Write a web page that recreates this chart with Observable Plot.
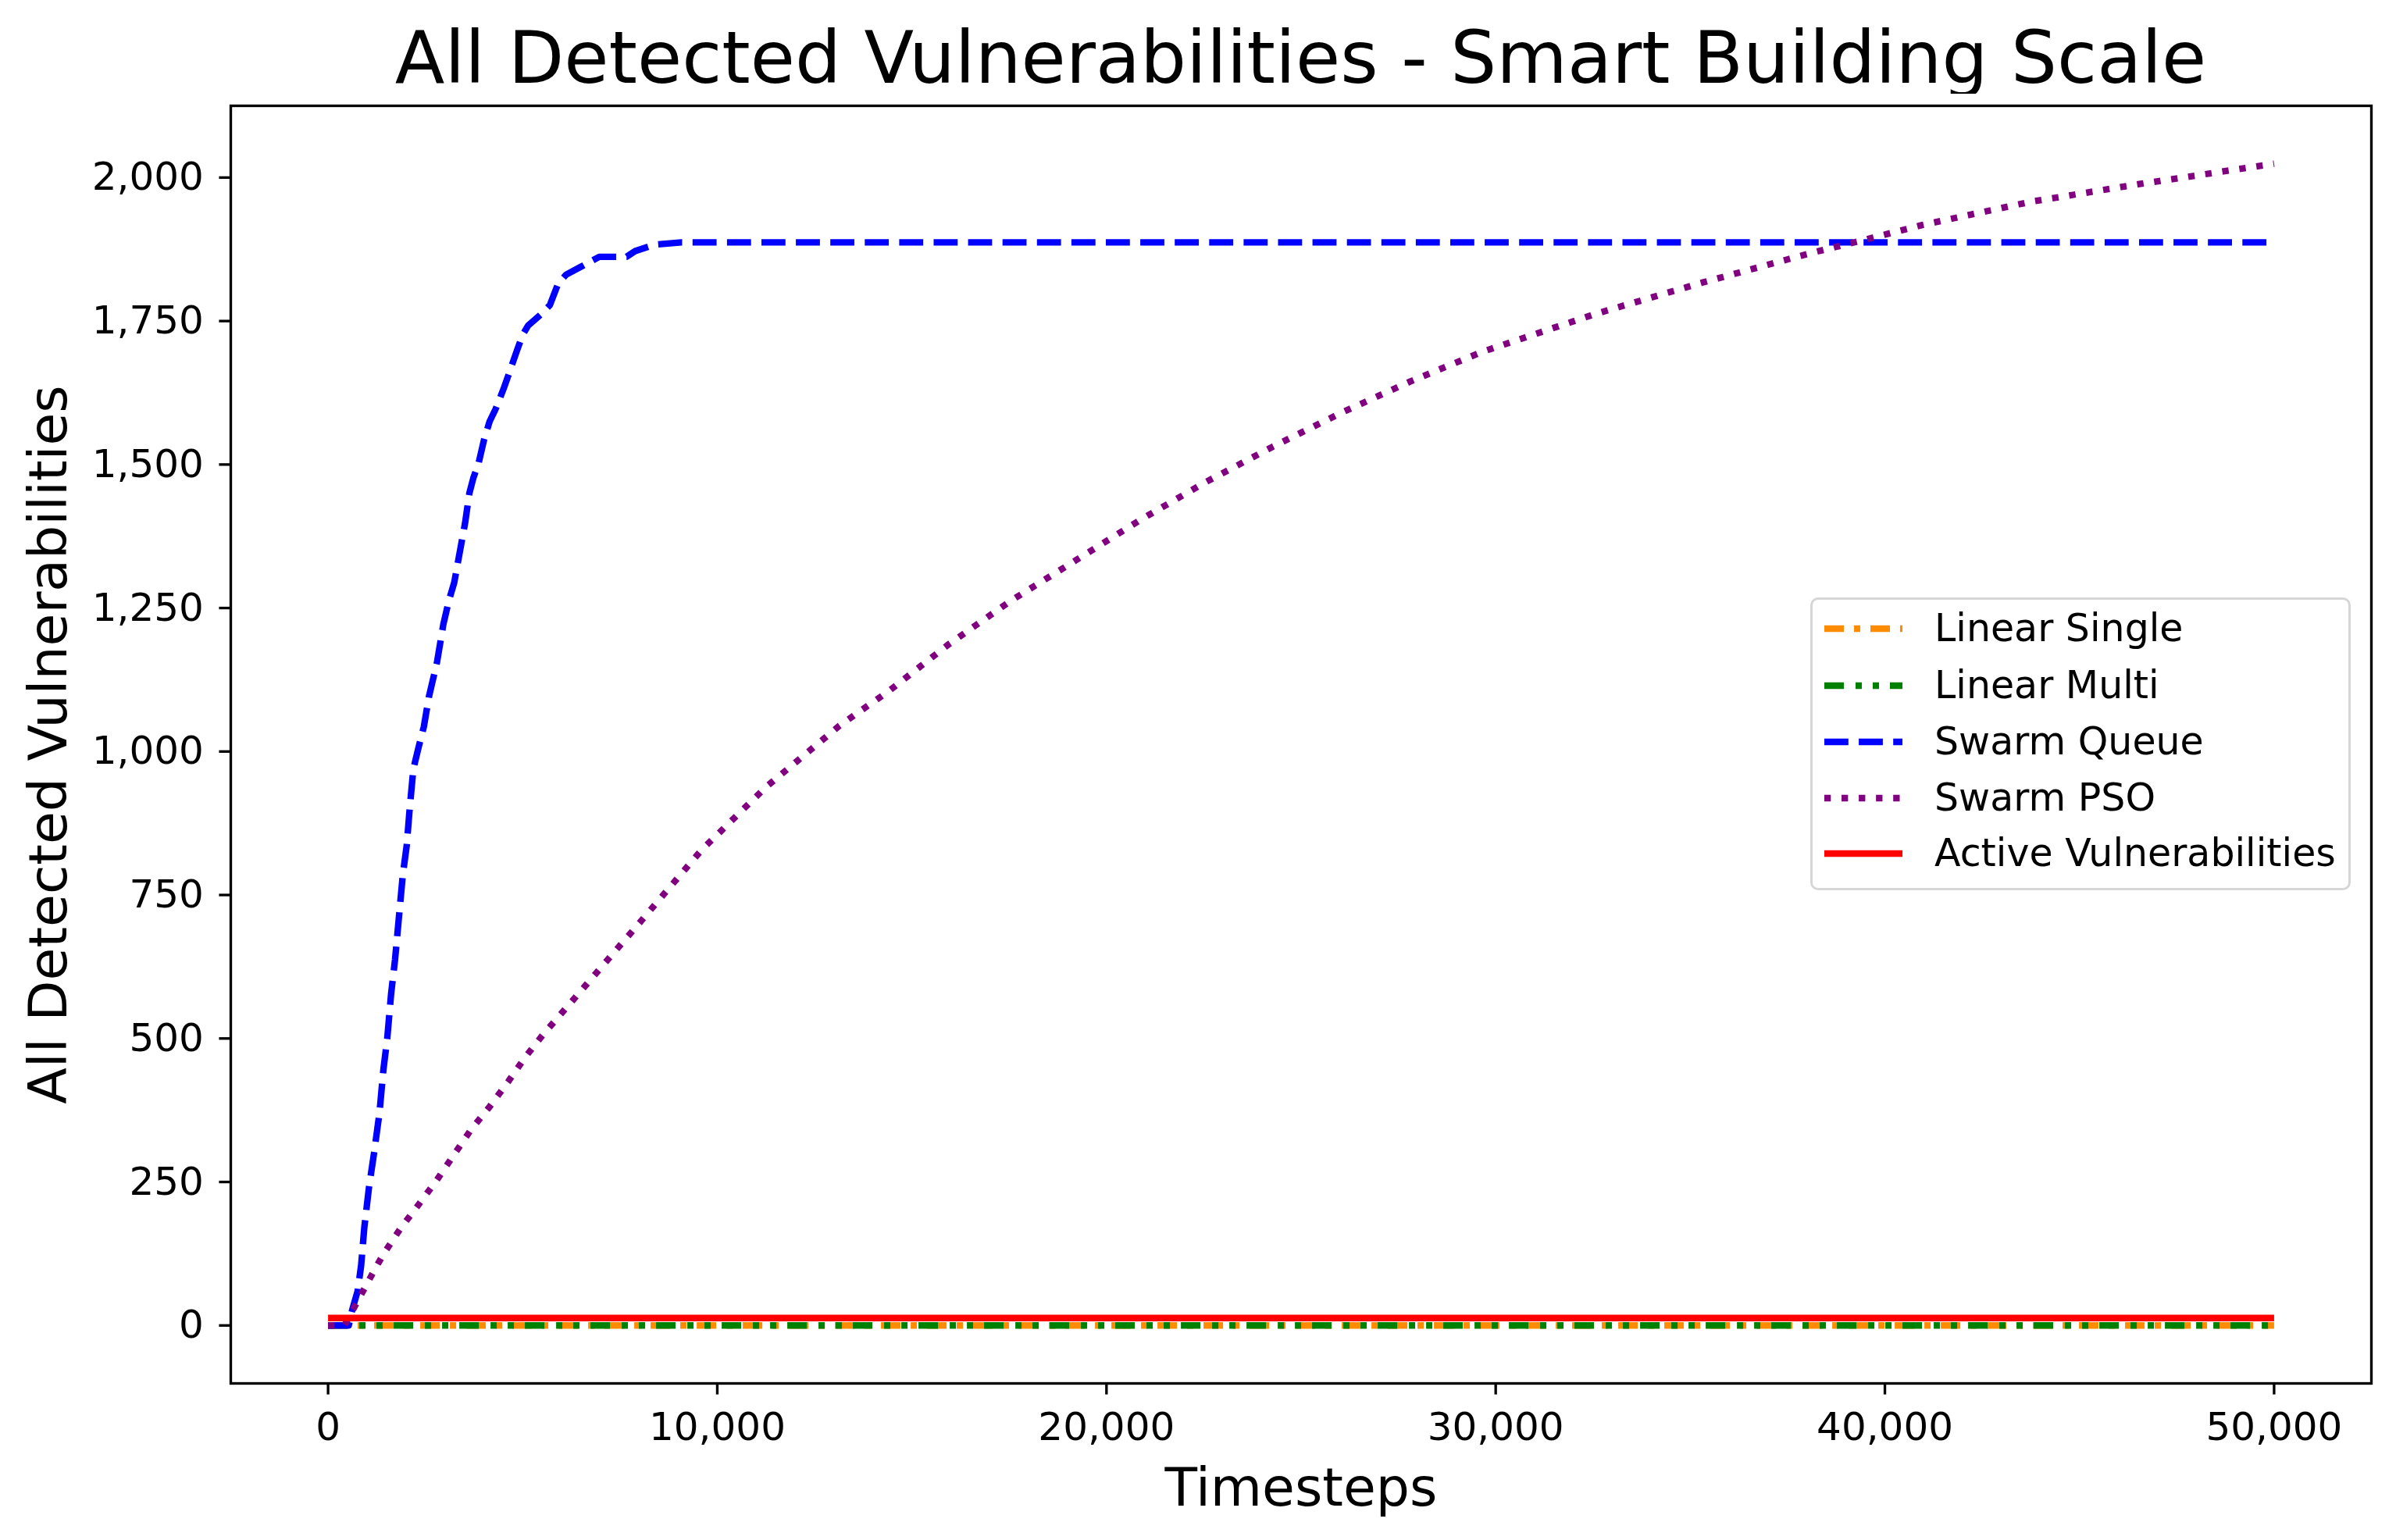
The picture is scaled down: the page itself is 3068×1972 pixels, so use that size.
<!DOCTYPE html>
<html>
<head>
<meta charset="utf-8">
<script src="https://cdn.jsdelivr.net/npm/d3@7"></script>
<script src="https://cdn.jsdelivr.net/npm/@observablehq/plot@0.6"></script>
<style>
  html, body { margin: 0; padding: 0; background: #ffffff; }
  body { font-family: "DejaVu Sans", sans-serif; color: #000; }
  #wrap { position: relative; width: 3068px; height: 1972px; }
  #title { position: absolute; left: 295px; width: 2741px; top: 28px; height: 93px;
           font-size: 93px; line-height: 93px; text-align: center; white-space: nowrap; }
  #chart { position: absolute; left: 0; top: 120px; }
  #chart svg g[aria-label="x-axis label"], #chart svg g[aria-label="y-axis label"] { font-size: 68px; }
  #legend { position: absolute; left: 2318px; top: 765px; width: 686px; height: 369px;
            border: 3px solid #d6d6d6; border-radius: 10px; background: rgba(255,255,255,0.8); }
  .row { position: absolute; left: 0; height: 72px; display: flex; align-items: center; }
  .row svg { margin-left: 15px; display: block; }
  .row span { margin-left: 41px; font-size: 49px; line-height: 72px; white-space: nowrap; }
</style>
</head>
<body>
<div id="wrap">
  <div id="title">All Detected Vulnerabilities - Smart Building Scale</div>
  <div id="chart"></div>
  <div id="legend"></div>
</div>
<script>
// ---- data ----
const seriesNames = ["Linear Single", "Linear Multi", "Swarm Queue", "Swarm PSO", "Active Vulnerabilities"];
const seriesColors = ["#ff8c00", "#008000", "#0000ff", "#800080", "#ff0000"];
const seriesDash = ["25,13,8,13", "25,15,8,14,8,14", "30.8,13.3", "8.3,13.75", null];

const flatTimesteps = [0, 50000];
const linearSingleValues = [0, 0];
const linearMultiValues = [0, 0];
const activeValues = [13, 13];

const queueTimesteps = [0, 530, 620, 760, 850, 930, 1050, 1180, 1320, 1420, 1520, 1620, 1720, 1820, 1920, 2020, 2090, 2190, 2320, 2460, 2590, 2800, 2960, 3100, 3240, 3380, 3520, 3630, 3730, 3870, 4010, 4150, 4300, 4510, 4650, 4860, 5000, 5140, 5490, 5700, 5910, 6120, 6480, 6970, 7670, 7890, 8380, 9080, 50000];
const queueValues    = [0, 0, 27, 60, 105, 170, 240, 300, 370, 445, 500, 578, 637, 711, 785, 836, 895, 969, 1006, 1043, 1095, 1156, 1221, 1262, 1294, 1346, 1398, 1450, 1476, 1503, 1544, 1575, 1596, 1632, 1659, 1700, 1726, 1742, 1763, 1778, 1815, 1831, 1844, 1862, 1862, 1872, 1883, 1887, 1887];

const psoTimesteps = [0, 420, 660, 850, 1220, 1420, 1850, 2320, 2790, 3230, 3660, 4160, 4630, 5060, 5550, 6090, 7920, 9590, 11250, 13140, 14420, 15950, 17550, 19210, 20880, 22540, 24270, 26060, 27850, 29640, 31440, 32590, 35310, 38130, 39390, 40940, 43760, 46570, 50000];
const psoValues    = [0, 0, 30, 54, 100, 124, 168, 210, 253, 297, 340, 382, 425, 467, 509, 551, 695, 828, 938, 1045, 1106, 1187, 1263, 1333, 1404, 1469, 1531, 1591, 1646, 1696, 1737, 1763, 1817, 1869, 1890, 1917, 1958, 1989, 2024];

const xTicks = [0, 10000, 20000, 30000, 40000, 50000];
const yTicks = [0, 250, 500, 750, 1000, 1250, 1500, 1750, 2000];

// ---- build tables ----
const toRows = (ts, vs) => ts.map((t, i) => ({t, v: vs[i]}));
const seriesData = [
  toRows(flatTimesteps, linearSingleValues),
  toRows(flatTimesteps, linearMultiValues),
  toRows(queueTimesteps, queueValues),
  toRows(psoTimesteps, psoValues),
  toRows(flatTimesteps, activeValues)
];

const LW = 8.33;
const fmt = d3.format(",");

const lineMarks = seriesData.map((rows, i) => Plot.line(rows, {
  x: "t", y: "v",
  stroke: seriesColors[i],
  strokeWidth: LW,
  strokeDasharray: seriesDash[i] || undefined,
  strokeLinecap: "butt",
  strokeLinejoin: "round"
}));

const chart = Plot.plot({
  width: 3068,
  height: 1852,
  marginLeft: 295,
  marginRight: 32,
  marginTop: 15,
  marginBottom: 201,
  style: { fontFamily: "DejaVu Sans, sans-serif", fontSize: "50px", color: "#000", background: "#fff", overflow: "visible" },
  x: { domain: [-2500, 52500] },
  y: { domain: [-101, 2125] },
  marks: [
    ...lineMarks,
    Plot.frame({ stroke: "#000", strokeWidth: 3.33 }),
    Plot.axisX({
      ticks: xTicks, tickFormat: fmt, tickSize: 14.6, tickPadding: 22,
      strokeWidth: 3.33, fontSize: 50,
      label: "Timesteps", labelAnchor: "center", labelOffset: 156, labelArrow: "none"
    }),
    Plot.axisY({
      ticks: yTicks, tickFormat: fmt, tickSize: 14.6, tickPadding: 20,
      strokeWidth: 3.33, fontSize: 50,
      label: "All Detected Vulnerabilities", labelAnchor: "center", labelOffset: 259, labelArrow: "none"
    })
  ]
});
document.getElementById("chart").appendChild(chart);

// ---- legend ----
const legend = document.getElementById("legend");
const rowCenters = [37, 110, 182, 254, 325];
seriesNames.forEach((name, i) => {
  const row = document.createElement("div");
  row.className = "row";
  row.style.top = (rowCenters[i] - 36) + "px";
  const dash = seriesDash[i] ? ` stroke-dasharray="${seriesDash[i]}"` : "";
  row.innerHTML = `<svg width="100" height="72" viewBox="0 0 100 72"><line x1="0" y1="36" x2="100" y2="36" stroke="${seriesColors[i]}" stroke-width="${LW}"${dash} stroke-linecap="butt"/></svg><span>${name}</span>`;
  legend.appendChild(row);
});
</script>
</body>
</html>
